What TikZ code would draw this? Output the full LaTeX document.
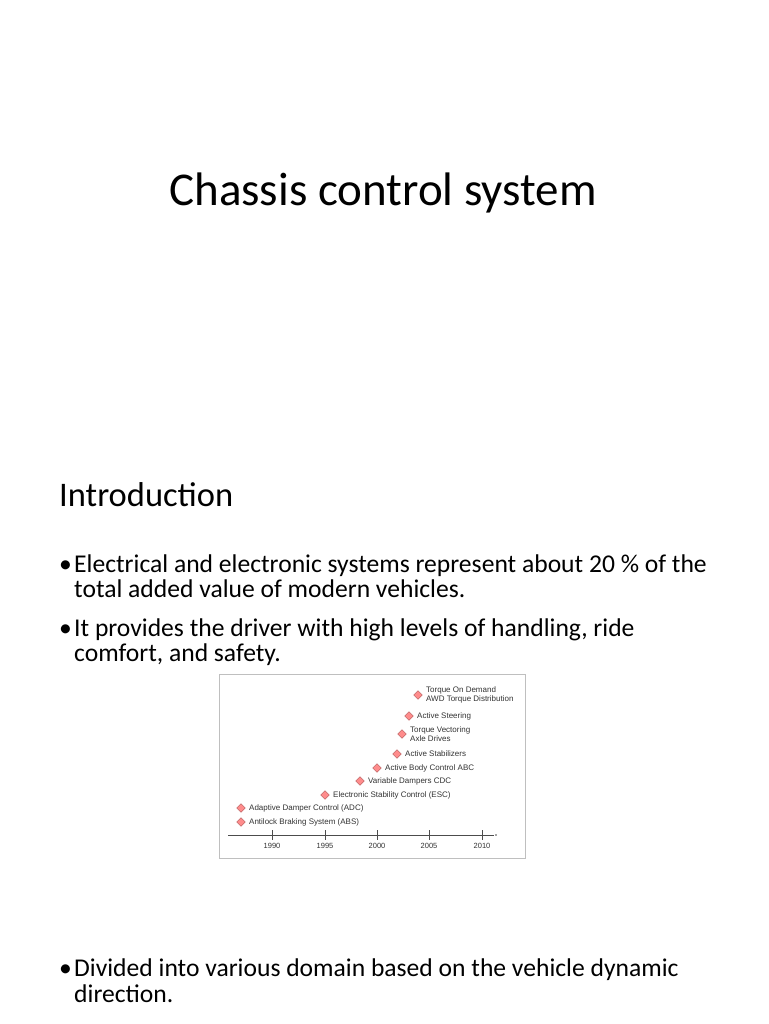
\documentclass[tikz,border=0pt]{standalone}
\usepackage{fontspec}
\setmainfont{Carlito}
\newfontfamily\chartfont{Liberation Sans}
\begin{document}
\begin{tikzpicture}[x=1pt,y=-1pt,
  body/.style={anchor=base west,inner sep=0,font=\fontsize{25.6}{29}\selectfont},
  dia/.style={fill=red!45!white,draw=red!60!black!60,line width=0.4pt,shape=rectangle,rotate=45,minimum width=6pt,minimum height=6pt,inner sep=0},
  lab/.style={anchor=west,inner sep=0,font=\chartfont\fontsize{8}{9}\selectfont,text=black!80,align=left},
  yr/.style={anchor=center,inner sep=0,font=\chartfont\fontsize{7.5}{8}\selectfont,text=black!80}]
\useasboundingbox (0,0) rectangle (768,1024);
\fill[white] (0,0) rectangle (768,1024);
\node[anchor=base,inner sep=0,font=\fontsize{47}{52}\selectfont] (title) at (383,206) {Chassis control system};
\node[anchor=base west,inner sep=0,font=\fontsize{34.5}{38}\selectfont] (intro) at (59,506) {Introduction};
\node[body] (b1) at (59,572) {•};
\node[body] (t1) at (74,572) {Electrical and electronic systems represent about 20 \% of the};
\node[body] (t1b) at (74,597) {total added value of modern vehicles.};
\node[body] (b2) at (59,636) {•};
\node[body] (t2) at (74,636) {It provides the driver with high levels of handling, ride};
\node[body] (t2b) at (74,661) {comfort, and safety.};
\node[body] (b3) at (59,976) {•};
\node[body] (t3) at (74,976) {Divided into various domain based on the vehicle dynamic};
\node[body] (t3b) at (74,1002) {direction.};
% chart
\draw[black!25,line width=0.8pt] (219,674) rectangle (525,858);
\coordinate (ax0) at (228,835);
\coordinate (ax1) at (494,835);
\draw[black!70,line width=0.5pt] (ax0) -- (ax1);
\fill[black!70] (496,835) circle (0.8);
\foreach \x/\y in {272/1990,325/1995,377/2000,429/2005,482/2010}{
  \draw[black!70,line width=0.5pt] (\x,830) -- (\x,840);
  \node[yr] (y\y) at (\x,846) {\y};
}
\foreach \n/\x/\y/\t in {tod/418/695/{Torque On Demand\\AWD Torque Distribution},
  as/409/716/{Active Steering},
  tv/402/734/{Torque Vectoring\\Axle Drives},
  ast/397/754/{Active Stabilizers},
  abc/377/768/{Active Body Control ABC},
  cdc/360/781/{Variable Dampers CDC},
  esc/325/795/{Electronic Stability Control (ESC)},
  adc/241/808/{Adaptive Damper Control (ADC)},
  abs/241/822/{Antilock Braking System (ABS)}}{
  \node[dia] (d\n) at (\x,\y) {};
  \node[lab] (l\n) at (\x+8,\y) {\t};
}
\end{tikzpicture}
\end{document}
